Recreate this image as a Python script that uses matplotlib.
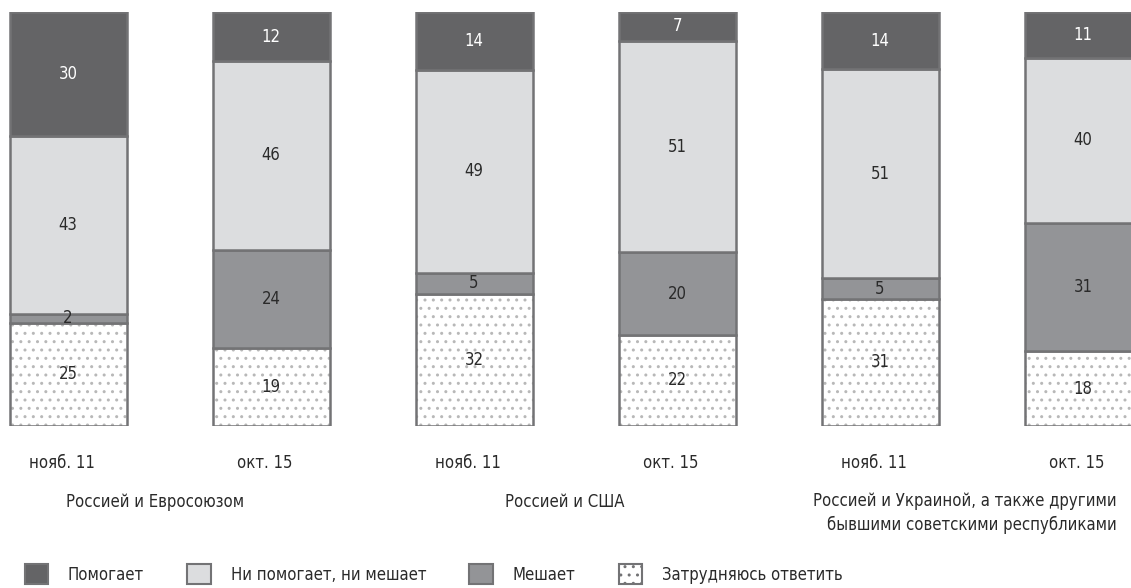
import matplotlib
matplotlib.use("Agg")
import matplotlib.pyplot as plt
import numpy as np
from matplotlib.patches import Patch

plt.rcParams["font.family"] = ["Liberation Sans Narrow", "DejaVu Sans"]
plt.rcParams["font.stretch"] = "condensed"

# ---------------------------------------------------------------------------
# Data
# ---------------------------------------------------------------------------
periods = ["нояб. 11", "окт. 15", "нояб. 11", "окт. 15", "нояб. 11", "окт. 15"]
groups = [
    "Россией и Евросоюзом",
    "Россией и США",
    "Россией и Украиной, а также другими\nбывшими советскими республиками",
]
categories = ["Помогает", "Ни помогает, ни мешает", "Мешает", "Затрудняюсь ответить"]

helps = [30, 12, 14, 7, 14, 11]
neither = [43, 46, 49, 51, 51, 40]
hinders = [2, 24, 5, 20, 5, 31]
hard_to_say = [25, 19, 32, 22, 31, 18]

# ---------------------------------------------------------------------------
# Style
# ---------------------------------------------------------------------------
FILL_COLORS = ["#646466", "#dcdddf", "#939497", "#ffffff"]
TEXT_COLORS = ["white", "#2a2a2a", "#2a2a2a", "#2a2a2a"]
EDGE = "#737375"
DOTS = "#b8b8b8"
FS = 12

W, H = 1131, 588
fig = plt.figure(figsize=(W / 100, H / 100), dpi=100)

# axes spans the full width; bar i is centred at pixel 68 + 203 * i
step = 203.0
x0 = 68.0
top_px, bot_px = 12.0, 426.0
ax = fig.add_axes([0, (H - bot_px) / H, 1, (bot_px - top_px) / H])
ax.set_xlim(-x0 / step, (W - x0) / step)
ax.set_ylim(0, 100)
ax.axis("off")

x = np.arange(len(periods))
width = 117 / step

# stack from the bottom: hard_to_say, hinders, neither, helps
series = [helps, neither, hinders, hard_to_say]
totals = np.sum(series, axis=0)
shares = [np.array(s) / totals * 100 for s in series]

bottom = np.zeros(len(periods))
for idx in [3, 2, 1, 0]:
    vals = shares[idx]
    if idx == 3:
        # dotted texture, then outline on top
        ax.bar(x, vals, width, bottom=bottom, color=FILL_COLORS[idx],
               edgecolor=DOTS, hatch="..", linewidth=0)
        ax.bar(x, vals, width, bottom=bottom, fill=False,
               edgecolor=EDGE, linewidth=1.8)
    else:
        ax.bar(x, vals, width, bottom=bottom, color=FILL_COLORS[idx],
               edgecolor=EDGE, linewidth=1.8)
    for xi, b, v, raw in zip(x, bottom, vals, series[idx]):
        ax.text(xi, b + v / 2, str(raw), ha="center", va="center",
                fontsize=FS, color=TEXT_COLORS[idx])
    bottom = bottom + vals

# period labels under each bar
for xi, lab in zip(x, periods):
    ax.text(xi - 0.03, -9, lab, ha="center", va="center", fontsize=FS, color="#2a2a2a")

# group captions
fig.text(155 / W, 1 - 502 / H, groups[0], ha="center", va="center", fontsize=FS, color="#2a2a2a")
fig.text(565 / W, 1 - 502 / H, groups[1], ha="center", va="center", fontsize=FS, color="#2a2a2a")
fig.text(1117 / W, 1 - 513 / H, groups[2], ha="right", va="center", fontsize=FS,
         color="#2a2a2a", linespacing=1.45, multialignment="right")

# legend
handles = []
for i, cat in enumerate(categories):
    if i == 3:
        handles.append(Patch(facecolor="white", edgecolor=EDGE, hatch="..", linewidth=1.5, label=cat))
    else:
        handles.append(Patch(facecolor=FILL_COLORS[i], edgecolor=EDGE, linewidth=1.5, label=cat))
leg = fig.legend(handles=handles, loc="lower left", bbox_to_anchor=(9.5 / W, -0.018),
                 ncol=4, frameon=False, fontsize=FS, handlelength=1.4, handleheight=1.4,
                 handletextpad=1.2, columnspacing=2.6)
for t in leg.get_texts():
    t.set_color("#2a2a2a")

fig.savefig("out.png", dpi=100)
